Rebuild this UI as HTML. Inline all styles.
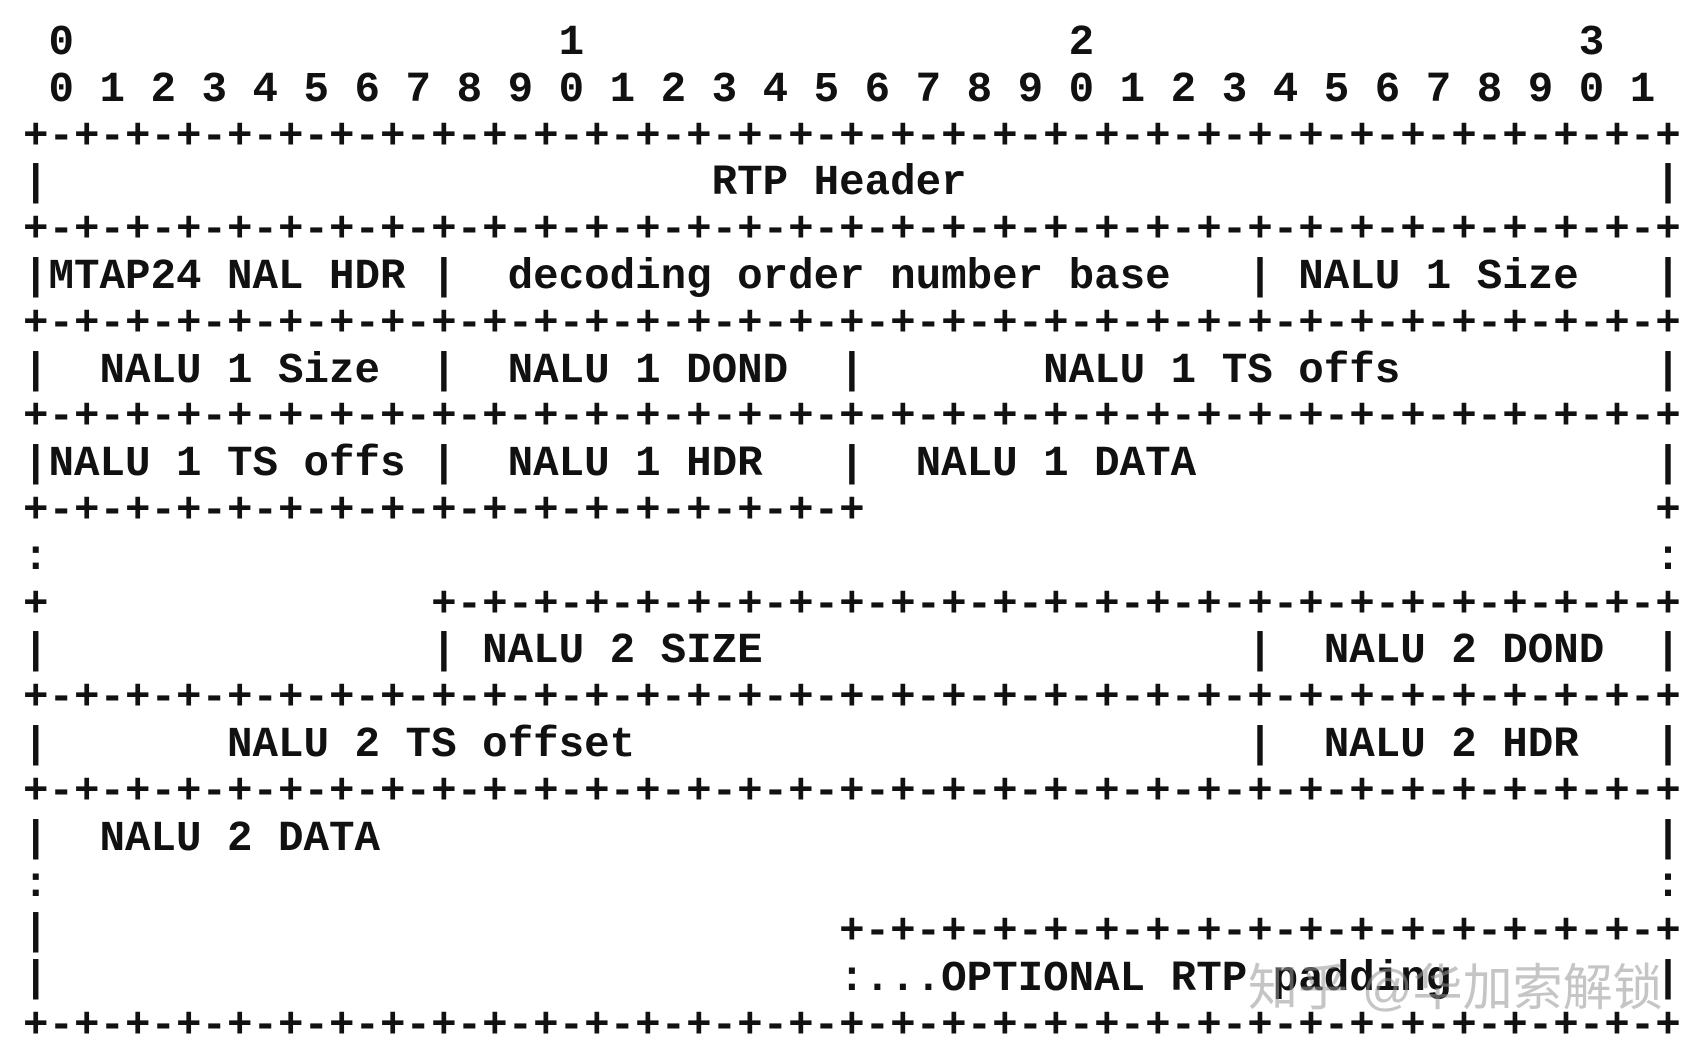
<!DOCTYPE html>
<html><head><meta charset="utf-8"><style>
html,body{margin:0;padding:0;background:#fff;width:1702px;height:1054px;overflow:hidden;position:relative}
pre{position:absolute;left:23px;top:20px;margin:0;font-family:"Liberation Mono",monospace;font-weight:bold;font-size:42.5px;line-height:46.8px;color:#111;}
.wm{position:absolute;left:1248px;top:948px;font-family:"Liberation Sans","Noto Sans CJK SC",sans-serif;font-size:50px;color:rgba(150,150,150,0.55);white-space:nowrap}
</style></head><body>
<pre> 0                   1                   2                   3
 0 1 2 3 4 5 6 7 8 9 0 1 2 3 4 5 6 7 8 9 0 1 2 3 4 5 6 7 8 9 0 1
+-+-+-+-+-+-+-+-+-+-+-+-+-+-+-+-+-+-+-+-+-+-+-+-+-+-+-+-+-+-+-+-+
|                          RTP Header                           |
+-+-+-+-+-+-+-+-+-+-+-+-+-+-+-+-+-+-+-+-+-+-+-+-+-+-+-+-+-+-+-+-+
|MTAP24 NAL HDR |  decoding order number base   | NALU 1 Size   |
+-+-+-+-+-+-+-+-+-+-+-+-+-+-+-+-+-+-+-+-+-+-+-+-+-+-+-+-+-+-+-+-+
|  NALU 1 Size  |  NALU 1 DOND  |       NALU 1 TS offs          |
+-+-+-+-+-+-+-+-+-+-+-+-+-+-+-+-+-+-+-+-+-+-+-+-+-+-+-+-+-+-+-+-+
|NALU 1 TS offs |  NALU 1 HDR   |  NALU 1 DATA                  |
+-+-+-+-+-+-+-+-+-+-+-+-+-+-+-+-+                               +
:                                                               :
+               +-+-+-+-+-+-+-+-+-+-+-+-+-+-+-+-+-+-+-+-+-+-+-+-+
|               | NALU 2 SIZE                   |  NALU 2 DOND  |
+-+-+-+-+-+-+-+-+-+-+-+-+-+-+-+-+-+-+-+-+-+-+-+-+-+-+-+-+-+-+-+-+
|       NALU 2 TS offset                        |  NALU 2 HDR   |
+-+-+-+-+-+-+-+-+-+-+-+-+-+-+-+-+-+-+-+-+-+-+-+-+-+-+-+-+-+-+-+-+
|  NALU 2 DATA                                                  |
:                                                               :
|                               +-+-+-+-+-+-+-+-+-+-+-+-+-+-+-+-+
|                               :...OPTIONAL RTP padding        |
+-+-+-+-+-+-+-+-+-+-+-+-+-+-+-+-+-+-+-+-+-+-+-+-+-+-+-+-+-+-+-+-+</pre>
<div class="wm">知乎 @华加索解锁</div>
</body></html>
